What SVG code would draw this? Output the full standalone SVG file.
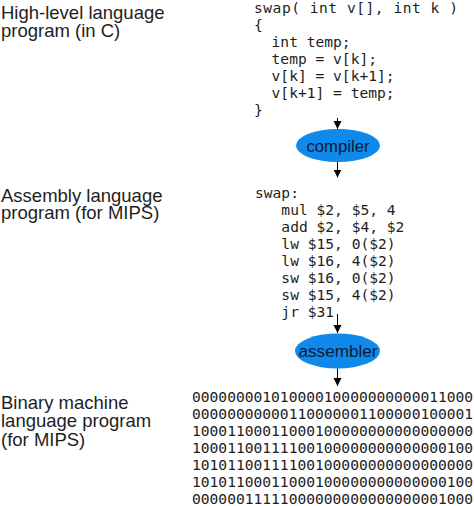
<svg xmlns="http://www.w3.org/2000/svg" width="474" height="506" viewBox="0 0 474 506">
<style>
.lbl{font-family:"Liberation Sans",Arial,sans-serif;font-size:18.5px;fill:#1e1e1e}
.code{font-family:"DejaVu Sans Mono",monospace;font-size:14.6px;fill:#1e1e1e;white-space:pre}
.node{fill:#0f89ea}
.ntxt{font-family:"Liberation Sans",Arial,sans-serif;fill:#0b1a36;text-anchor:middle}
.edge{stroke:#000;stroke-width:1;fill:none}
</style>
<defs>
<marker id="ah" viewBox="0 0 8 10" refX="8" refY="5" markerWidth="8" markerHeight="10" markerUnits="userSpaceOnUse" orient="auto">
<path d="M0,1 L8,5 L0,9 Z" fill="#000"/>
</marker>
</defs>
<rect width="474" height="506" fill="#fff"/>
<g id="label-c">
<text class="lbl" x="1" y="18.5">High-level language</text>
<text class="lbl" x="1" y="37">program (in C)</text>
</g>
<g id="code-c">
<text class="code" xml:space="preserve" x="254" y="13" textLength="204" lengthAdjust="spacing">swap( int v[], int k )</text>
<text class="code" xml:space="preserve" x="254" y="30">{</text>
<text class="code" xml:space="preserve" x="254" y="47">  int temp;</text>
<text class="code" xml:space="preserve" x="254" y="64">  temp = v[k];</text>
<text class="code" xml:space="preserve" x="254" y="81">  v[k] = v[k+1];</text>
<text class="code" xml:space="preserve" x="254" y="98">  v[k+1] = temp;</text>
<text class="code" xml:space="preserve" x="254" y="115">}</text>
</g>
<g id="compiler">
<ellipse class="node" cx="338" cy="145.5" rx="42" ry="16.5"/>
<text class="ntxt" x="338" y="151.5" font-size="16.7">compiler</text>
</g>
<g id="label-asm">
<text class="lbl" x="1" y="201.5">Assembly language</text>
<text class="lbl" x="1" y="219">program (for MIPS)</text>
</g>
<g id="code-asm">
<text class="code" xml:space="preserve" x="255" y="198">swap:</text>
<text class="code" xml:space="preserve" x="255" y="215">   mul $2, $5, 4</text>
<text class="code" xml:space="preserve" x="255" y="232">   add $2, $4, $2</text>
<text class="code" xml:space="preserve" x="255" y="249">   lw $15, 0($2)</text>
<text class="code" xml:space="preserve" x="255" y="266">   lw $16, 4($2)</text>
<text class="code" xml:space="preserve" x="255" y="283">   sw $16, 0($2)</text>
<text class="code" xml:space="preserve" x="255" y="300">   sw $15, 4($2)</text>
<text class="code" xml:space="preserve" x="255" y="317">   jr $31</text>
</g>
<g id="assembler">
<ellipse class="node" cx="337.5" cy="351" rx="42.5" ry="17.5"/>
<text class="ntxt" x="338" y="357" font-size="17.1">assembler</text>
</g>
<g id="label-bin">
<text class="lbl" x="1" y="408.5">Binary machine</text>
<text class="lbl" x="1" y="427">language program</text>
<text class="lbl" x="1" y="445.5">(for MIPS)</text>
</g>
<g id="code-bin">
<text class="code" x="192" y="402">00000000101000010000000000011000</text>
<text class="code" x="192" y="419">00000000000110000001100000100001</text>
<text class="code" x="192" y="436">10001100011000100000000000000000</text>
<text class="code" x="192" y="453">10001100111100100000000000000100</text>
<text class="code" x="192" y="470">10101100111100100000000000000000</text>
<text class="code" x="192" y="487">10101100011000100000000000000100</text>
<text class="code" x="192" y="504">00000011111000000000000000001000</text>
</g>
<g id="connectors">
<line class="edge" x1="337.5" y1="118" x2="337.5" y2="129" marker-end="url(#ah)"/>
<line class="edge" x1="337.5" y1="162" x2="337.5" y2="177.5" marker-end="url(#ah)"/>
<line class="edge" x1="337.5" y1="314" x2="337.5" y2="333" marker-end="url(#ah)"/>
<line class="edge" x1="337.5" y1="368.5" x2="337.5" y2="386" marker-end="url(#ah)"/>
</g>
</svg>
